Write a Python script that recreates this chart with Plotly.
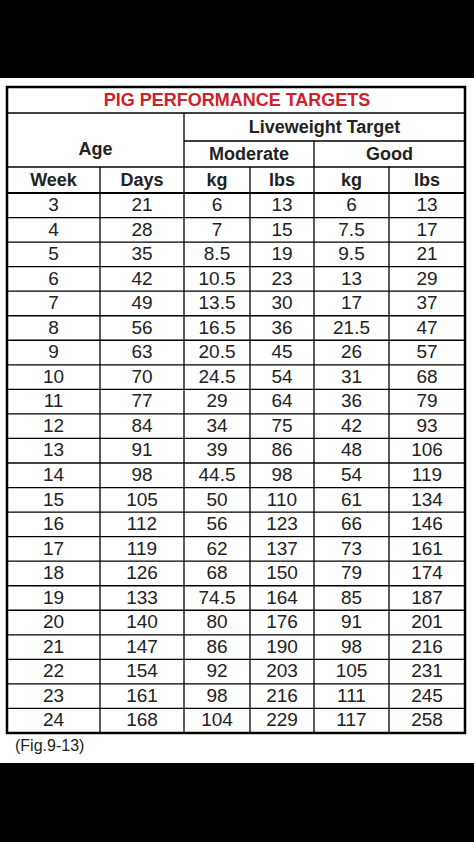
import plotly.graph_objects as go

weeks = [3,4,5,6,7,8,9,10,11,12,13,14,15,16,17,18,19,20,21,22,23,24]
days = [21,28,35,42,49,56,63,70,77,84,91,98,105,112,119,126,133,140,147,154,161,168]
mod_kg = ["6","7","8.5","10.5","13.5","16.5","20.5","24.5","29","34","39","44.5","50","56","62","68","74.5","80","86","92","98","104"]
mod_lbs = [13,15,19,23,30,36,45,54,64,75,86,98,110,123,137,150,164,176,190,203,216,229]
good_kg = ["6","7.5","9.5","13","17","21.5","26","31","36","42","48","54","61","66","73","79","85","91","98","105","111","117"]
good_lbs = [13,17,21,29,37,47,57,68,79,93,106,119,134,146,161,174,187,201,216,231,245,258]
col_headers = ["Week","Days","kg","lbs","kg","lbs"]
title = "PIG PERFORMANCE TARGETS"

W, H = 474, 842
cx = [7, 100, 184, 250, 314, 389, 465]
y_top, y_t1, y_t2, y_t3, y_t4, y_bot = 87, 113, 141, 167, 193, 733
n = len(weeks)
rh = (y_bot - y_t4) / n

fig = go.Figure()
shapes = []
shapes.append(dict(type="rect", x0=0, x1=W, y0=0, y1=78, fillcolor="black", line_width=0))
shapes.append(dict(type="rect", x0=0, x1=W, y0=763, y1=H, fillcolor="black", line_width=0))
def line(x0, y0, x1, y1, w=1.3):
    shapes.append(dict(type="line", x0=x0, x1=x1, y0=y0, y1=y1, line=dict(color="black", width=w)))
line(cx[0], y_t1, cx[6], y_t1)
line(cx[2], y_t2, cx[6], y_t2)
line(cx[0], y_t3, cx[6], y_t3)
line(cx[0], y_t4, cx[6], y_t4, 2)
for i in range(1, n):
    line(cx[0], y_t4 + i*rh, cx[6], y_t4 + i*rh)
line(cx[1], y_t3, cx[1], y_bot)
line(cx[2], y_t1, cx[2], y_bot)
line(cx[3], y_t3, cx[3], y_bot)
line(cx[4], y_t2, cx[4], y_bot)
line(cx[5], y_t3, cx[5], y_bot)
shapes.append(dict(type="rect", x0=cx[0], x1=cx[6], y0=y_top, y1=y_bot, line=dict(color="black", width=2.5)))

def txt(xs, ys, ts, size=18, color="#222", bold=False, family="Liberation Sans"):
    fig.add_trace(go.Scatter(x=xs, y=ys, mode="text", text=[f"<b>{t}</b>" if bold else str(t) for t in ts],
                             textfont=dict(size=size, color=color, family=family), hoverinfo="skip"))

mid = [(cx[i]+cx[i+1])/2 for i in range(6)]
txt([W/2], [(y_top+y_t1)/2+1], [title], size=18, color="#d0202a", bold=True)
txt([(cx[2]+cx[6])/2], [(y_t1+y_t2)/2+1], ["Liveweight Target"], size=18, bold=True)
txt([(cx[0]+cx[2])/2], [(y_t1+y_t3)/2+10], ["Age"], size=18, bold=True)
txt([(cx[2]+cx[4])/2, (cx[4]+cx[6])/2], [(y_t2+y_t3)/2+1]*2, ["Moderate","Good"], size=18, bold=True)
txt(mid, [(y_t3+y_t4)/2+1]*6, col_headers, size=18, bold=True)
ys = [y_t4 + (i+0.5)*rh + 1 for i in range(n)]
for j, col in enumerate([weeks, days, mod_kg, mod_lbs, good_kg, good_lbs]):
    txt([mid[j]]*n, ys, col, size=19)
txt([15], [747], ["(Fig.9-13)"], size=16)
fig.data[-1].textposition = "middle right"

fig.update_layout(width=W, height=H, margin=dict(l=0, r=0, t=0, b=0), showlegend=False,
                  paper_bgcolor="white", plot_bgcolor="white", shapes=shapes,
                  xaxis=dict(range=[0, W], visible=False, fixedrange=True),
                  yaxis=dict(range=[H, 0], visible=False, fixedrange=True))
fig.write_html("out.html", config={"displayModeBar": False},
               post_script="document.body.style.margin='0';document.body.style.overflow='hidden';")
